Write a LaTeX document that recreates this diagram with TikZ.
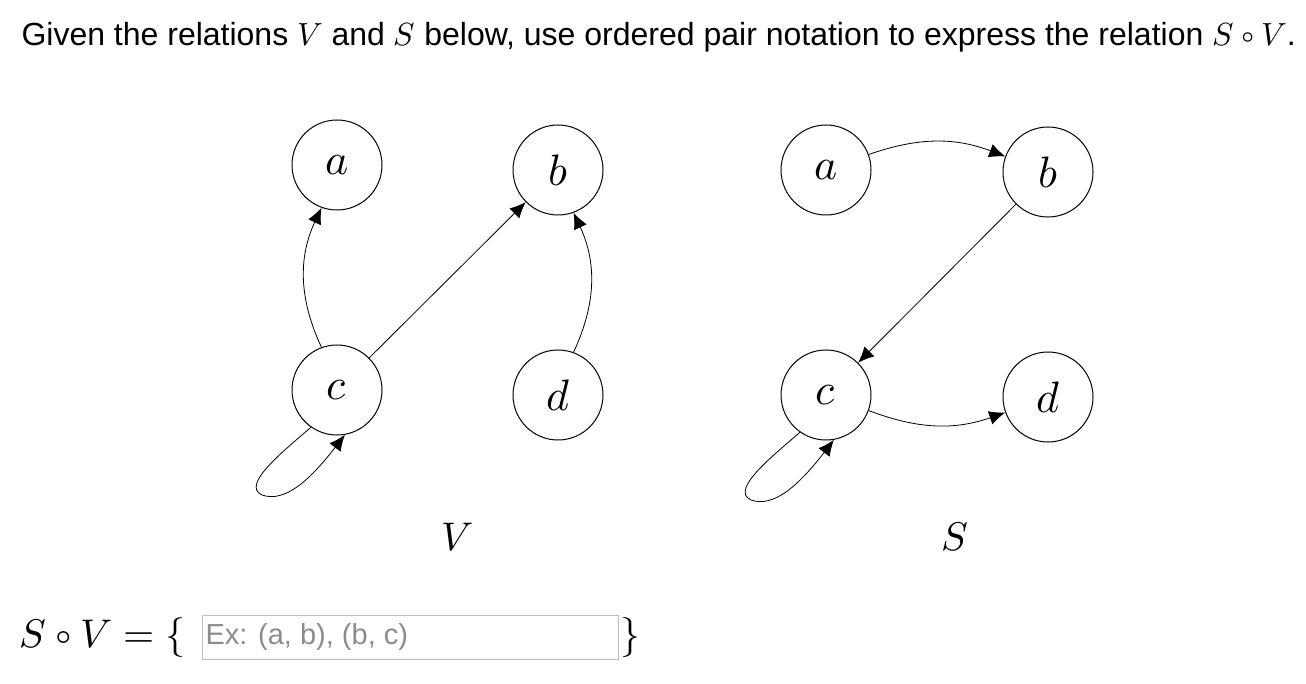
\documentclass[tikz,border=0pt]{standalone}
\usepackage{fontspec}
\setmainfont{Liberation Sans}
\usepackage{unicode-math}
\setmathfont{Latin Modern Math}
\usetikzlibrary{arrows.meta}
\begin{document}
\begin{tikzpicture}[x=1pt,y=-1pt,
  vert/.style={circle,draw,line width=1pt,minimum size=90pt,inner sep=0pt,font=\fontsize{44}{48}\selectfont},
  edge/.style={line width=0.8pt,-{Latex[length=16pt,width=14pt]}},
  lbl/.style={font=\fontsize{32}{36}\selectfont}]
\useasboundingbox (0,0) rectangle (1306,684);
\node[lbl,anchor=west] (title) at (18,37) {Given the relations $V$ and $S$ below, use ordered pair notation to express the relation $S\circ V$.};
% V
\node[vert] (va) at (337,165) {$a$};
\node[vert] (vb) at (558,170) {$b$};
\node[vert] (vc) at (337,390) {$c$};
\node[vert] (vd) at (558,395) {$d$};
\draw[edge] (vc.110) to[bend left=25] (va.250);
\draw[edge] (vc) -- (vb);
\draw[edge] (vd.70) to[bend right=25] (vb.290);
\draw[edge] (vc.235) .. controls (285,450) and (240,485) .. (262,495) .. controls (285,503) and (310,480) .. (vc.280);
\node[lbl,font=\fontsize{40}{44}\selectfont] (vl) at (457,537) {$V$};
% S
\node[vert] (sa) at (826,170) {$a$};
\node[vert] (sb) at (1048,172) {$b$};
\node[vert] (sc) at (826,395) {$c$};
\node[vert] (sd) at (1048,397) {$d$};
\draw[edge] (sa.20) to[bend left=20] (sb.160);
\draw[edge] (sb) -- (sc);
\draw[edge] (sc.340) to[bend right=20] (sd.200);
\draw[edge] (sc.235) .. controls (774,455) and (729,490) .. (751,500) .. controls (774,508) and (799,485) .. (sc.280);
\node[lbl,font=\fontsize{40}{44}\selectfont] (sl) at (955,537) {$S$};
% answer
\node[lbl,anchor=west,font=\fontsize{40}{44}\selectfont] (eq) at (16,637) {$S\circ V=\{$};
\node[draw=black!25,line width=1pt,minimum width=416pt,minimum height=44pt,anchor=west,inner sep=0pt] (box) at (202,637) {};
\node[anchor=west,text=black!45,font=\fontsize{29}{32}\selectfont] (ph) at (202,637) {Ex: (a, b), (b, c)};
\node[lbl,anchor=west,font=\fontsize{40}{44}\selectfont] (rb) at (617,637) {$\}$};
\end{tikzpicture}
\end{document}
